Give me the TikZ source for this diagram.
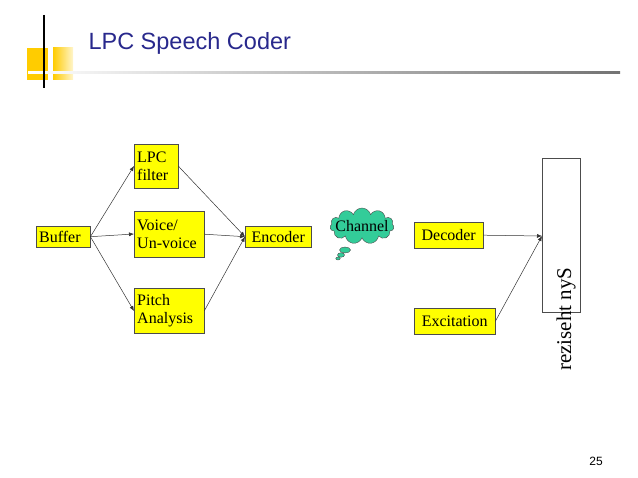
\documentclass[tikz,border=0pt]{standalone}
\usepackage{fontspec}
\setmainfont{Liberation Serif}
\newfontfamily\sansf{Liberation Sans}
\usetikzlibrary{shapes.symbols,shapes.geometric,arrows.meta}
\definecolor{ybox}{RGB}{255,255,0}
\definecolor{cloudg}{RGB}{51,204,153}
\definecolor{navy}{RGB}{40,40,140}
\definecolor{gold}{RGB}{255,204,0}
\begin{document}
\begin{tikzpicture}[x=1pt,y=-1pt,
  box/.style={draw=black!70,fill=ybox,anchor=north west,inner sep=0pt,align=left,font=\fontsize{16}{18}\selectfont},
  arr/.style={-{Latex[length=5pt,width=4pt]},black!80,line width=0.5pt}]
\useasboundingbox (0,0) rectangle (638,478);
% header decoration
\fill[gold] (27,48) rectangle (48,80);
\shade[left color=gold,right color=gold!20] (53,48) rectangle (73,80);
\shade[left color=white,right color=black!55] (28,72) rectangle (620,74);
\draw[line width=1.5pt] (44,15) -- (44,88);
\node[anchor=west,text=navy,font=\sansf\fontsize{23.5}{26}\selectfont] (title) at (85,43) {LPC Speech Coder};
% boxes
\node[box,minimum width=52pt,minimum height=21pt,text width=48pt,inner xsep=3pt] (buf) at (36,226) {Buffer};
\node[box,minimum width=42pt,minimum height=44pt,text width=38pt,inner xsep=3pt] (lpc) at (134,144) {LPC\\filter};
\node[box,minimum width=68pt,minimum height=46pt,text width=64pt,inner xsep=3pt] (voice) at (134,211) {Voice/\\Un-voice};
\node[box,minimum width=68pt,minimum height=45pt,text width=64pt,inner xsep=3pt] (pitch) at (134,288) {Pitch\\Analysis};
\node[box,minimum width=64pt,minimum height=21pt,text width=60pt,inner xsep=3pt,align=center] (enc) at (245,226) {Encoder};
\node[box,minimum width=67pt,minimum height=26pt,text width=63pt,inner xsep=3pt,align=center] (dec) at (414,222) {Decoder};
\node[box,minimum width=79pt,minimum height=26pt,text width=75pt,inner xsep=3pt,align=center] (exc) at (414,308) {Excitation};
\node[draw=black!70,anchor=north west,minimum width=38pt,minimum height=154pt,inner sep=0pt] (syn) at (542,158) {};
\node[rotate=90,anchor=east,font=\fontsize{21}{23}\selectfont] (syntext) at (566,264) {reziseht nyS};
% cloud
\node[cloud,cloud puffs=11,aspect=1.9,cloud ignores aspect,draw=black!70,fill=cloudg,minimum width=64pt,minimum height=36pt,inner sep=0pt] (ch) at (362,226) {};
\node[font=\fontsize{16}{18}\selectfont] (cht) at (362,226) {Channel};
\node[ellipse,draw=black!70,fill=cloudg,minimum width=11pt,minimum height=6pt,inner sep=0pt] (p1) at (345,250) {};
\node[ellipse,draw=black!70,fill=cloudg,minimum width=7pt,minimum height=4.5pt,inner sep=0pt] (p2) at (341,255) {};
\node[ellipse,draw=black!70,fill=cloudg,minimum width=4.5pt,minimum height=3pt,inner sep=0pt] (p3) at (338,258.5) {};
% connectors
\coordinate (lpcin) at (134,166);
\coordinate (voin) at (134,234);
\coordinate (piin) at (134,311);
\draw[arr] (buf.east) -- (lpcin);
\draw[arr] (buf.east) -- (voin);
\draw[arr] (buf.east) -- (piin);
\draw[arr] (lpc.east) -- (enc.west);
\draw[arr] (voice.east) -- (enc.west);
\draw[arr] (pitch.east) -- (enc.west);
\coordinate (synin) at (542,236);
\draw[arr] (dec.east) -- (synin);
\draw[arr] (exc.east) -- (synin);
\node[font=\sansf\fontsize{12}{14}\selectfont] (pg) at (596,461) {25};
\end{tikzpicture}
\end{document}
